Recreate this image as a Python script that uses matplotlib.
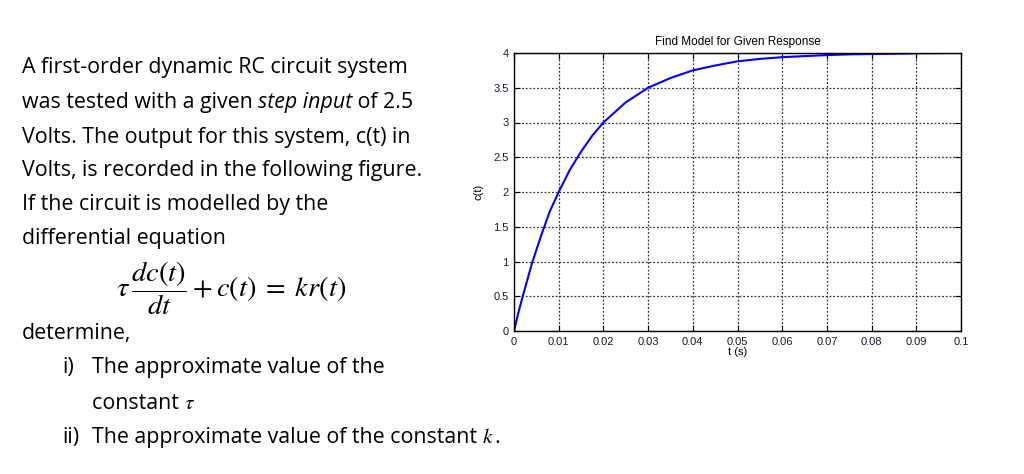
import numpy as np
import matplotlib.pyplot as plt
from matplotlib.ticker import FuncFormatter

# valores (resposta ao degrau)
t_s = [0, 0.001, 0.002, 0.004, 0.006, 0.008, 0.01, 0.0125, 0.015, 0.0175, 0.02,
       0.025, 0.03, 0.035, 0.04, 0.045, 0.05, 0.055, 0.06, 0.065, 0.07, 0.075,
       0.08, 0.085, 0.09, 0.095, 0.1]
c_t = [0, 0.27, 0.51, 0.97, 1.36, 1.72, 2.0, 2.32, 2.58, 2.81, 3.0,
       3.29, 3.5, 3.64, 3.75, 3.82, 3.88, 3.915, 3.94, 3.955, 3.97, 3.98,
       3.985, 3.99, 3.995, 3.998, 4.0]
x_ticks = [0, 0.01, 0.02, 0.03, 0.04, 0.05, 0.06, 0.07, 0.08, 0.09, 0.1]
y_ticks = [0, 0.5, 1, 1.5, 2, 2.5, 3, 3.5, 4]

plt.rcParams['mathtext.fontset'] = 'stix'

fig = plt.figure(figsize=(10.24, 4.74), dpi=100)
renderer = fig.canvas.get_renderer()

def fx(px):
    return px / 1024

def fy(py):
    return 1 - py / 474

# --- texto do enunciado ---
fonte_txt = dict(family='Open Sans', fontsize=15.4, color='black', va='center', ha='left')

def texto_em_partes(x_px, y_px, partes):
    # escreve pedaços de texto em sequência, alinhados pela linha de base
    x = x_px
    kw = dict(fonte_txt)
    kw['va'] = 'baseline'
    for conteudo, estilo in partes:
        t = fig.text(fx(x), fy(y_px + 6), conteudo, style=estilo, **kw)
        x = t.get_window_extent(renderer).x1

linhas = ["A first-order dynamic RC circuit system",
          None,
          "Volts. The output for this system, c(t) in",
          "Volts, is recorded in the following figure.",
          "If the circuit is modelled by the",
          "differential equation"]
y_px = [68, 102, 137, 171, 205, 239]
for txt, yp in zip(linhas, y_px):
    if txt is None:
        texto_em_partes(22, yp, [("was tested with a given ", 'normal'),
                                 ("step input", 'italic'),
                                 (" of 2.5", 'normal')])
    else:
        fig.text(fx(22), fy(yp), txt, **fonte_txt)

fig.text(fx(116), fy(288),
         r"$\tau\,\dfrac{dc(t)}{dt} + c(t)\; = \;kr(t)$",
         fontsize=20.5, va='center', ha='left')

fig.text(fx(22), fy(333), "determine,", **fonte_txt)
fig.text(fx(62), fy(367), "i)", **fonte_txt)
fig.text(fx(92), fy(367), "The approximate value of the", **fonte_txt)
texto_em_partes(92, 403, [("constant ", 'normal'), (r"$\tau$", 'normal')])
fig.text(fx(62), fy(437), "ii)", **fonte_txt)
texto_em_partes(92, 437, [("The approximate value of the constant ", 'normal'),
                          (r"$k$", 'normal'), (".", 'normal')])

# --- grafico estilo MATLAB ---
ax = fig.add_axes([fx(514), fy(331), 447 / 1024, 278 / 474])
ax.plot(t_s, c_t, color='#0000ff', linewidth=1.5)
ax.set_xlim(0, 0.1)
ax.set_ylim(0, 4)
ax.set_xticks(x_ticks)
ax.set_yticks(y_ticks)
ax.xaxis.set_major_formatter(FuncFormatter(lambda v, p: f"{v:g}"))
ax.yaxis.set_major_formatter(FuncFormatter(lambda v, p: f"{v:g}"))
ax.tick_params(direction='in', top=True, right=True, length=4, labelsize=8,
               labelcolor='#1a1a33', pad=4)
ax.grid(True, color='#333333', linestyle=(0, (1.5, 1.5)), linewidth=0.9)
for s in ax.spines.values():
    s.set_linewidth(1.0)
ax.set_title("Find Model for Given Response", fontsize=8.5, family='Liberation Sans', pad=6)
ax.set_xlabel("t (s)", fontsize=8, family='Liberation Sans', labelpad=0)
ax.set_ylabel("c(t)", fontsize=8, family='Liberation Sans', labelpad=7)
for lbl in ax.get_xticklabels() + ax.get_yticklabels():
    lbl.set_family('Liberation Sans')

fig.savefig("out.png", dpi=100)
